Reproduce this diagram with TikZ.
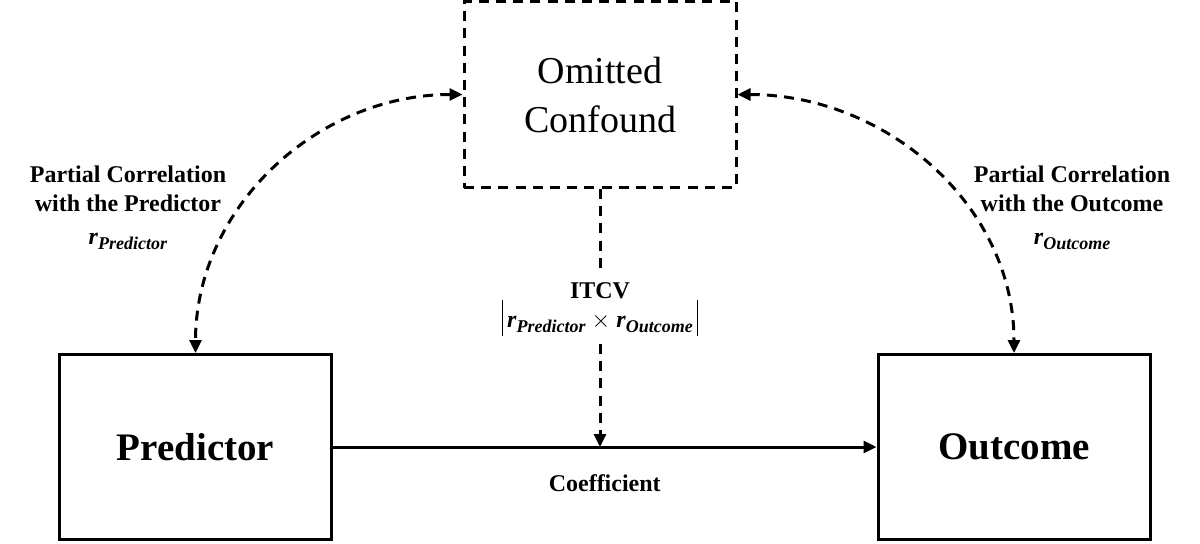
\documentclass[tikz,border=0pt]{standalone}
\usepackage{fontspec}
\setmainfont{Liberation Serif}
\usetikzlibrary{arrows.meta, positioning, calc}
\tikzset{
	varbox/.style={rectangle, draw=black, line width=1.5pt, minimum width=136pt, minimum height=92.5pt, align=center, font=\fontsize{19.5}{24.5}\selectfont\bfseries},
	hidbox/.style={varbox, dash pattern=on 5pt off 3.6pt, minimum height=93pt, font=\fontsize{19}{24.5}\selectfont},
	tag/.style={align=center, inner sep=1pt, font=\fontsize{12}{14.5}\selectfont\bfseries},
	arrow/.style={-{Triangle[length=6.5pt, width=6pt]}, line width=1.5pt},
	dashline/.style={line width=1.5pt, dash pattern=on 5pt off 3.6pt},
	dasharrow/.style={arrow, dashline},
	corrarrow/.style={{Triangle[length=6.5pt, width=6pt]}-{Triangle[length=6.5pt, width=6pt]}, dashline},
}
\newcommand{\rsub}[1]{\textit{r}\raisebox{-0.45ex}{\fontsize{9}{9}\selectfont\textit{#1}}}

\begin{document}
\begin{tikzpicture}[x=0.5pt, y=-0.5pt]
	\useasboundingbox (0,0) rectangle (1200,543);
	\node[hidbox] (conf) at (600,94.5) {Omitted\\Confound};
	\node[varbox] (pred) at (195.5,447) {Predictor};
	\node[varbox] (out) at (1014,447) {Outcome};
	\coordinate (hit) at (conf.south |- pred.east);
	\node[tag, inner sep=4pt] (itcv) at ($(conf.south)!0.465!(hit)$) {ITCV\\\rule[-0.35em]{0.5pt}{1.5em}\,\rsub{Predictor} {\mdseries$\times$} \rsub{Outcome}\,\rule[-0.35em]{0.5pt}{1.5em}};
	\draw[arrow] (pred) -- (out) node[tag, midway, below=12pt] (coef) {Coefficient};
	\draw[dashline] (conf.south) -- (itcv.north);
	\draw[dasharrow] (itcv.south) -- (hit);
	\draw[corrarrow] (conf.west) to[out=180, in=90] (pred.north);
	\draw[corrarrow] (conf.east) to[out=0, in=90] (out.north);
	\node[tag] (lefttag) at (128,208) {Partial Correlation\\with the Predictor\\[2pt]\rsub{Predictor}};
	\node[tag] (righttag) at (1072,208) {Partial Correlation\\with the Outcome\\[2pt]\rsub{Outcome}};
\end{tikzpicture}
\end{document}
